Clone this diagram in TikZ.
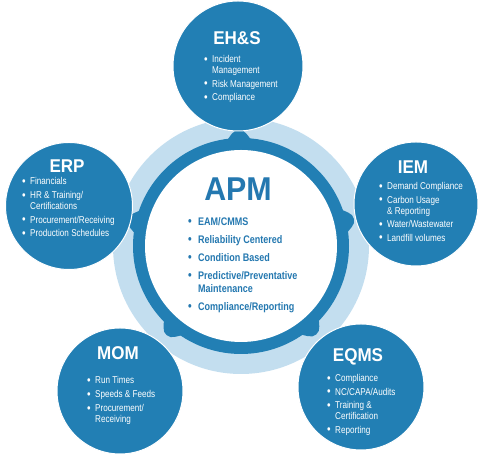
\documentclass[tikz,border=0pt]{standalone}
\usepackage{fontspec}
\setmainfont{Liberation Sans}
\newfontfamily\condf[FakeStretch=0.82]{Liberation Sans}
\newfontfamily\headf[FakeStretch=0.92]{Liberation Sans}
\usetikzlibrary{calc}
\definecolor{satblue}{HTML}{227FB4}
\definecolor{ringlight}{HTML}{C3DEEF}
\definecolor{apmtext}{HTML}{2478B0}
\newcommand\bul{\makebox[8pt][l]{\raisebox{-0.2pt}{\scalebox{1.25}{\textbullet}}}}
\newcommand\bulb{\makebox[10pt][l]{\scalebox{1.15}{\textbullet}}}
\begin{document}
\begin{tikzpicture}[x=1pt,y=1pt,
  sat/.style={circle,fill=satblue,draw=white,line width=1pt,inner sep=0pt},
  head/.style={anchor=base,inner sep=0pt,text=white,font=\headf\bfseries\fontsize{18.5}{20}\selectfont},
  lst/.style={anchor=base west,inner sep=0pt,text=white,font=\condf\fontsize{9.9}{11}\selectfont},
  apmhead/.style={anchor=base,inner sep=0pt,text=apmtext,font=\headf\bfseries\fontsize{33}{36}\selectfont},
  apmlst/.style={anchor=base west,inner sep=0pt,text=apmtext,font=\condf\bfseries\fontsize{11}{13}\selectfont}]
\useasboundingbox (0,0) rectangle (480,465);
\coordinate (c) at (241,219);
\coordinate (pehs) at (238,399);
\coordinate (perp) at (69,259);
\coordinate (piem) at (416,261);
\coordinate (pmom) at (120,74);
\coordinate (peqms) at (361,78);
% rings
\fill[ringlight] (c) circle (128);
\fill[satblue] (c) circle (108);
\foreach \a in {91,166.9,13.5,230.2,310.4}{
  \begin{scope}[shift={(c)},rotate=\a]
    \fill[satblue] (105,-13) .. controls (108,-10) and (110,-9.5) .. (112,-7.5)
      .. controls (117.5,-4) and (117.5,4) .. (112,7.5)
      .. controls (110,9.5) and (108,10) .. (105,13) -- cycle;
  \end{scope}
}
\fill[white] (c) circle (96);
% satellites
\node[sat,minimum size=130pt] (ehs) at (pehs) {};
\node[sat,minimum size=127pt] (erp) at (perp) {};
\node[sat,minimum size=124pt] (iem) at (piem) {};
\node[sat,minimum size=126pt] (mom) at (pmom) {};
\node[sat,minimum size=126pt] (eqms) at (peqms) {};
% headings
\node[head] (ehsT) at (237,420) {EH\&S};
\node[head] (erpT) at (67,292.3) {ERP};
\node[head] (iemT) at (413,291.7) {IEM};
\node[head] (momT) at (118,105) {MOM};
\node[head] (eqmsT) at (358,103.3) {EQMS};
\node[apmhead] (apmT) at (238,264.3) {APM};
% lists
\node[lst] (ehsL) at (204,402) {\begin{tabular}[t]{@{}l@{}l@{}}
\bul & Incident\\ & Management\\[2.5pt]
\bul & Risk Management\\[2.5pt]
\bul & Compliance\end{tabular}};
\node[lst] (erpL) at (22,280) {\begin{tabular}[t]{@{}l@{}l@{}}
\bul & Financials\\[3pt]
\bul & HR \& Training/\\ & Certifications\\[2.5pt]
\bul & Procurement/Receiving\\[2.5pt]
\bul & Production Schedules\end{tabular}};
\node[lst] (iemL) at (379,275) {\begin{tabular}[t]{@{}l@{}l@{}}
\bul & Demand Compliance\\[2.5pt]
\bul & Carbon Usage\\ & \& Reporting\\[2.5pt]
\bul & Water/Wastewater\\[2.5pt]
\bul & Landfill volumes\end{tabular}};
\node[lst] (momL) at (87,81) {\begin{tabular}[t]{@{}l@{}l@{}}
\bul & Run Times\\[3pt]
\bul & Speeds \& Feeds\\[3pt]
\bul & Procurement/\\ & Receiving\end{tabular}};
\node[lst] (eqmsL) at (327,83) {\begin{tabular}[t]{@{}l@{}l@{}}
\bul & Compliance\\[2.5pt]
\bul & NC/CAPA/Audits\\[2.5pt]
\bul & Training \&\\ & Certification\\[2.5pt]
\bul & Reporting\end{tabular}};
\node[apmlst] (apmL) at (188,239) {\begin{tabular}[t]{@{}l@{}l@{}}
\bulb & EAM/CMMS\\[5pt]
\bulb & Reliability Centered\\[5pt]
\bulb & Condition Based\\[5pt]
\bulb & Predictive/Preventative\\ & Maintenance\\[5pt]
\bulb & Compliance/Reporting\end{tabular}};
\end{tikzpicture}
\end{document}
